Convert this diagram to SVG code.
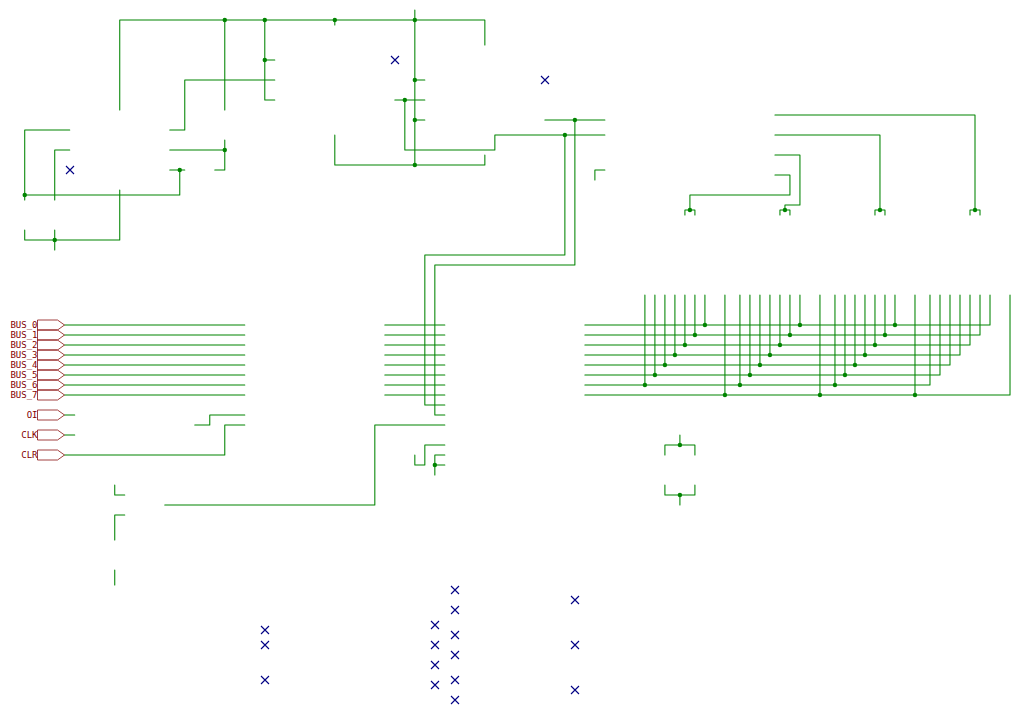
<svg xmlns="http://www.w3.org/2000/svg" xmlns:xlink="http://www.w3.org/1999/xlink" width="1020" height="714" viewBox="0 0 1020 714">
<style>
.w{fill:none;stroke:#008400;stroke-width:1.05;stroke-linecap:round;stroke-linejoin:round}
.d{fill:#008400;stroke:none}
.f{fill:#fff;fill-opacity:0;stroke:#840000;stroke-width:.75;stroke-linejoin:miter}
.t{font-family:"DejaVu Sans Mono",monospace;font-size:9px;fill:#840000;text-anchor:end}
.x{fill:none;stroke:#000084;stroke-width:1.1}
</style>
<defs>
<circle id="dot" class="d" r="2.2"/>
<path id="flag" class="f" d="M37 -5H57L64 0L57 5H37Z"/>
<path id="nc" class="x" d="M-4 -4L4 4M4 -4L-4 4"/>
</defs>
<rect width="1020" height="714" fill="#fff"/>
<g transform="matrix(1.0003 0 0 1 -.29 0)">
<g id="connectors" class="w">
<path d="M120 110V20H485V45M225 20V110M265 20V100H275M265 60H275M335 20V25M415 10V165"/>
<path d="M170 130H185V80H275M415 80H425M415 120H425M395 100H425M405 100V150H495V135H605M335 135V165H485V155M545 120H605"/>
<path d="M575 120V265H435V415H445M565 135V255H425V405H445M595 180V170H605"/>
<path d="M70 130H25V200M70 150H55V200M25 195H180V170M170 170H185M120 190V240H25V230M55 230V250M170 150H225M225 140V170H215"/>
<path d="M65 325H245M65 335H245M65 345H245M65 355H245M65 365H245M65 375H245M65 385H245M65 395H245M65 415H75M65 435H75M65 455H225V425H245M195 425H210V415H245"/>
<path d="M115 485V495H125M125 515H115V540M115 570V585M165 505H375V425H445"/>
<path d="M385 325H445M385 335H445M385 345H445M385 355H445M385 365H445M385 375H445M385 385H445M385 395H445"/>
<path d="M415 455V465H425V445H445M435 475V455H445M435 465H445"/>
<path d="M585 325H990V295M585 335H980V295M585 345H970V295M585 355H960V295M585 365H950V295M585 375H940V295M585 385H930V295M585 395H1010V295"/>
<path d="M645 295V385M655 295V375M665 295V365M675 295V355M685 295V345M695 295V335M705 295V325M725 295V395"/>
<path d="M740 295V385M750 295V375M760 295V365M770 295V355M780 295V345M790 295V335M800 295V325M820 295V395"/>
<path d="M835 295V385M845 295V375M855 295V365M865 295V355M875 295V345M885 295V335M895 295V325M915 295V395"/>
<path d="M775 115H975V210M775 135H880V210M775 155H800V205H785V210M775 175H790V195H690V210"/>
<path d="M685 215V210H695V215M780 215V210H790V215M875 215V210H885V215M970 215V210H980V215"/>
<path d="M665 455V445H695V455M680 435V445M665 485V495H695V485M680 495V505"/>
</g>
<g id="junctions">
<use href="#dot" x="225" y="20"/><use href="#dot" x="265" y="20"/><use href="#dot" x="265" y="60"/><use href="#dot" x="335" y="20"/><use href="#dot" x="415" y="20"/>
<use href="#dot" x="415" y="80"/><use href="#dot" x="405" y="100"/><use href="#dot" x="415" y="120"/><use href="#dot" x="415" y="165"/><use href="#dot" x="575" y="120"/><use href="#dot" x="565" y="135"/>
<use href="#dot" x="25" y="195"/><use href="#dot" x="180" y="170"/><use href="#dot" x="225" y="150"/><use href="#dot" x="55" y="240"/><use href="#dot" x="435" y="465"/>
<use href="#dot" x="645" y="385"/><use href="#dot" x="655" y="375"/><use href="#dot" x="665" y="365"/><use href="#dot" x="675" y="355"/><use href="#dot" x="685" y="345"/><use href="#dot" x="695" y="335"/><use href="#dot" x="705" y="325"/><use href="#dot" x="725" y="395"/>
<use href="#dot" x="740" y="385"/><use href="#dot" x="750" y="375"/><use href="#dot" x="760" y="365"/><use href="#dot" x="770" y="355"/><use href="#dot" x="780" y="345"/><use href="#dot" x="790" y="335"/><use href="#dot" x="800" y="325"/><use href="#dot" x="820" y="395"/>
<use href="#dot" x="835" y="385"/><use href="#dot" x="845" y="375"/><use href="#dot" x="855" y="365"/><use href="#dot" x="865" y="355"/><use href="#dot" x="875" y="345"/><use href="#dot" x="885" y="335"/><use href="#dot" x="895" y="325"/><use href="#dot" x="915" y="395"/>
<use href="#dot" x="690" y="210"/><use href="#dot" x="785" y="210"/><use href="#dot" x="880" y="210"/><use href="#dot" x="975" y="210"/>
<use href="#dot" x="680" y="445"/><use href="#dot" x="680" y="495"/>
</g>
</g>
<g id="no-connects">
<use href="#nc" x="70" y="170"/><use href="#nc" x="395" y="60"/><use href="#nc" x="545" y="80"/>
<use href="#nc" x="265" y="630"/><use href="#nc" x="265" y="645"/><use href="#nc" x="265" y="680"/>
<use href="#nc" x="435" y="625"/><use href="#nc" x="435" y="645"/><use href="#nc" x="435" y="665"/><use href="#nc" x="435" y="685"/>
<use href="#nc" x="455" y="590"/><use href="#nc" x="455" y="610"/><use href="#nc" x="455" y="635"/><use href="#nc" x="455" y="655"/><use href="#nc" x="455" y="680"/><use href="#nc" x="455" y="700"/>
<use href="#nc" x="575" y="600"/><use href="#nc" x="575" y="645"/><use href="#nc" x="575" y="690"/>
</g>
<g transform="translate(.5 0)">
<g id="label-bus0"><use href="#flag" y="325"/><text class="t" x="37" y="328">BUS_0</text></g>
<g id="label-bus1"><use href="#flag" y="335"/><text class="t" x="37" y="338">BUS_1</text></g>
<g id="label-bus2"><use href="#flag" y="345"/><text class="t" x="37" y="348">BUS_2</text></g>
<g id="label-bus3"><use href="#flag" y="355"/><text class="t" x="37" y="358">BUS_3</text></g>
<g id="label-bus4"><use href="#flag" y="365"/><text class="t" x="37" y="368">BUS_4</text></g>
<g id="label-bus5"><use href="#flag" y="375"/><text class="t" x="37" y="378">BUS_5</text></g>
<g id="label-bus6"><use href="#flag" y="385"/><text class="t" x="37" y="388">BUS_6</text></g>
<g id="label-bus7"><use href="#flag" y="395"/><text class="t" x="37" y="398">BUS_7</text></g>
<g id="label-oi"><use href="#flag" y="415"/><text class="t" x="37" y="418">OI</text></g>
<g id="label-clk"><use href="#flag" y="435"/><text class="t" x="37" y="438">CLK</text></g>
<g id="label-clr"><use href="#flag" y="455"/><text class="t" x="37" y="458">CLR</text></g>
</g>
</svg>
